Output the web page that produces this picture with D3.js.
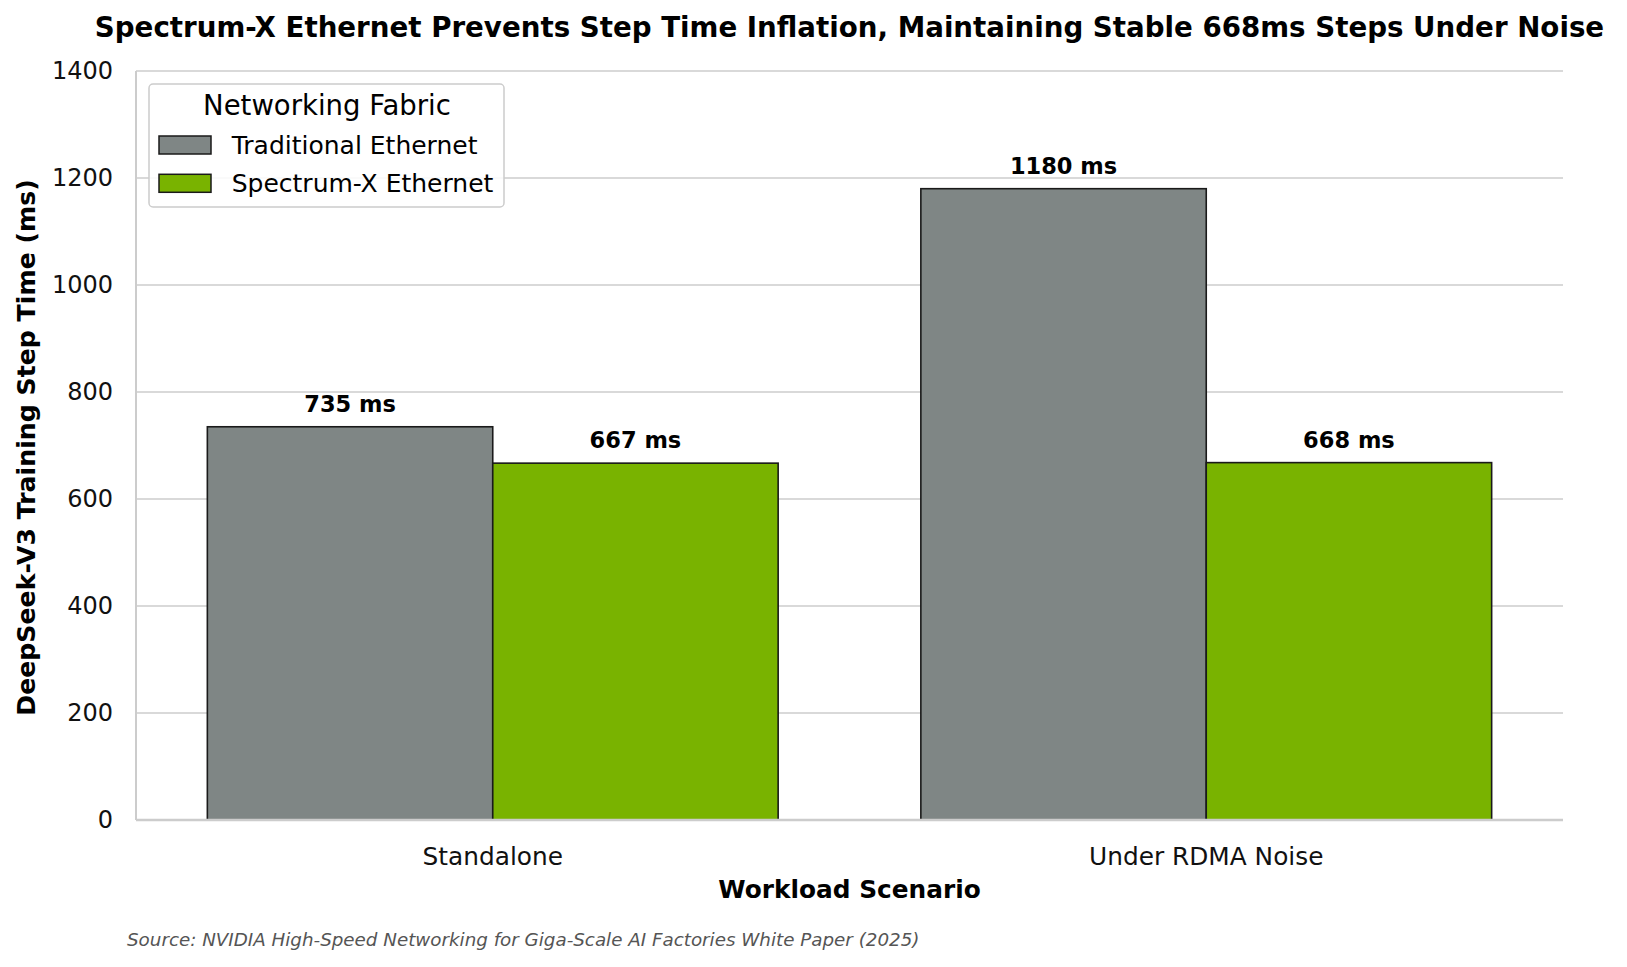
<!DOCTYPE html>
<html>
<head>
<meta charset="utf-8">
<script src="https://cdn.jsdelivr.net/npm/d3@7"></script>
<style>
  html, body { margin: 0; padding: 0; background: #fff; }
  svg { display: block; font-family: "DejaVu Sans", sans-serif; }
</style>
</head>
<body>
<div id="chart"></div>
<script>
// data
const scenarios = ["Standalone", "Under RDMA Noise"];
const fabrics = ["Traditional Ethernet", "Spectrum-X Ethernet"];
const traditionalMs = [735, 1180];
const spectrumMs = [667, 668];
const yTicks = [0, 200, 400, 600, 800, 1000, 1200, 1400];
const fabricColors = ["#7f8685", "#79b300"];

const W = 1627, H = 967;
const margin = { top: 71, right: 64, bottom: 147, left: 136 };
const width = W - margin.left - margin.right,
      height = H - margin.top - margin.bottom;

const svg = d3.select("#chart").append("svg")
    .attr("width", W)
    .attr("height", H);

const g = svg.append("g")
    .attr("transform", `translate(${margin.left},${margin.top})`);

const x0 = d3.scaleBand().domain(scenarios).range([0, width]).paddingInner(0.2).paddingOuter(0.1);
const x1 = d3.scaleBand().domain(fabrics).range([0, x0.bandwidth()]);
const y = d3.scaleLinear().domain([0, 1400]).range([height, 0]);

const rows = scenarios.map((s, i) => ({
    scenario: s,
    values: [traditionalMs[i], spectrumMs[i]]
}));

// grid
g.append("g")
    .selectAll("line")
    .data(yTicks)
    .enter()
    .append("line")
    .attr("x1", 0)
    .attr("x2", width)
    .attr("y1", d => y(d))
    .attr("y2", d => y(d))
    .attr("stroke", "#cccccc")
    .attr("stroke-width", 1.6);

// bars
const groups = g.selectAll(".grp")
    .data(rows)
    .enter()
    .append("g")
    .attr("class", "grp")
    .attr("transform", d => `translate(${x0(d.scenario)},0)`);

groups.selectAll("rect")
    .data(d => d.values.map((v, j) => ({ fabric: fabrics[j], v, j })))
    .enter()
    .append("rect")
    .attr("x", d => x1(d.fabric))
    .attr("y", d => y(d.v))
    .attr("width", x1.bandwidth())
    .attr("height", d => y(0) - y(d.v))
    .attr("fill", d => fabricColors[d.j])
    .attr("stroke", "#1a1a1a")
    .attr("stroke-width", 1.6);

groups.selectAll(".val")
    .data(d => d.values.map((v, j) => ({ fabric: fabrics[j], v })))
    .enter()
    .append("text")
    .attr("class", "val")
    .attr("x", d => x1(d.fabric) + x1.bandwidth() / 2)
    .attr("y", d => y(d.v) - 15)
    .attr("text-anchor", "middle")
    .style("font-size", "22.5px")
    .style("font-weight", "bold")
    .attr("fill", "#000")
    .text(d => d.v + " ms");

// spines
g.append("line")
    .attr("x1", 0).attr("x2", 0)
    .attr("y1", 0).attr("y2", height)
    .attr("stroke", "#cccccc").attr("stroke-width", 2);
g.append("line")
    .attr("x1", 0).attr("x2", width)
    .attr("y1", height).attr("y2", height)
    .attr("stroke", "#cccccc").attr("stroke-width", 2.4);

// axes
const yAxis = g.append("g")
    .call(d3.axisLeft(y).tickValues(yTicks).tickFormat(d3.format("d")).tickSize(0).tickPadding(23));
yAxis.select(".domain").remove();
yAxis.selectAll("text")
    .style("font-size", "24px")
    .style("font-family", "DejaVu Sans")
    .attr("fill", "#111");

const xAxis = g.append("g")
    .attr("transform", `translate(0,${height})`)
    .call(d3.axisBottom(x0).tickSize(0).tickPadding(27));
xAxis.select(".domain").remove();
xAxis.selectAll("text")
    .style("font-size", "24.8px")
    .style("font-family", "DejaVu Sans")
    .attr("fill", "#111");

// axis titles
svg.append("text")
    .attr("x", margin.left + width / 2)
    .attr("y", 898)
    .attr("text-anchor", "middle")
    .style("font-size", "24.8px")
    .style("font-weight", "bold")
    .text("Workload Scenario");

svg.append("text")
    .attr("transform", `translate(35,${margin.top + height / 2 + 2}) rotate(-90)`)
    .attr("text-anchor", "middle")
    .style("font-size", "25.2px")
    .style("font-weight", "bold")
    .text("DeepSeek-V3 Training Step Time (ms)");

// title
svg.append("text")
    .attr("x", margin.left + width / 2)
    .attr("y", 37)
    .attr("text-anchor", "middle")
    .style("font-size", "27.7px")
    .style("font-weight", "bold")
    .text("Spectrum-X Ethernet Prevents Step Time Inflation, Maintaining Stable 668ms Steps Under Noise");

// source note
svg.append("text")
    .attr("x", 127)
    .attr("y", 946)
    .style("font-size", "18.3px")
    .style("font-style", "italic")
    .attr("fill", "#555")
    .text("Source: NVIDIA High-Speed Networking for Giga-Scale AI Factories White Paper (2025)");

// legend
const legend = svg.append("g")
    .attr("transform", "translate(149,84)");

legend.append("rect")
    .attr("width", 355)
    .attr("height", 123)
    .attr("rx", 4)
    .attr("fill", "#fff")
    .attr("fill-opacity", 0.85)
    .attr("stroke", "#cccccc")
    .attr("stroke-width", 1.5);

legend.append("text")
    .attr("x", 178)
    .attr("y", 31)
    .attr("text-anchor", "middle")
    .style("font-size", "27.5px")
    .text("Networking Fabric");

fabrics.forEach((f, i) => {
    const row = legend.append("g")
        .attr("transform", `translate(10, ${52 + i * 38.3})`);
    row.append("rect")
        .attr("width", 52)
        .attr("height", 18)
        .attr("fill", fabricColors[i])
        .attr("stroke", "#1a1a1a")
        .attr("stroke-width", 1.5);
    row.append("text")
        .attr("x", 72.7)
        .attr("y", 17.5)
        .style("font-size", "25px")
        .text(f);
});
</script>
</body>
</html>
